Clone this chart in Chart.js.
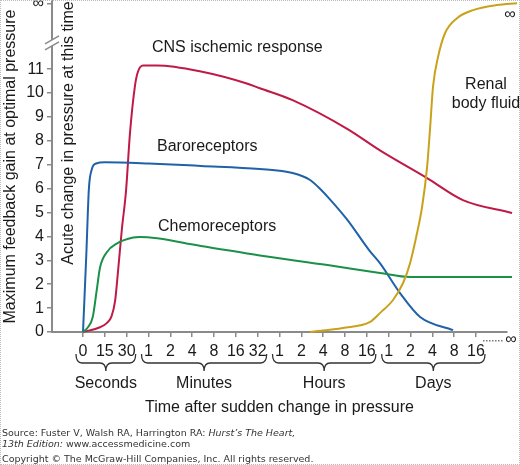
<!DOCTYPE html>
<html>
<head>
<meta charset="utf-8">
<script src="https://cdn.jsdelivr.net/npm/chart.js@4.4.1/dist/chart.umd.min.js"></script>
<style>
  html, body { margin: 0; padding: 0; background: #fff; }
  #wrap { position: relative; width: 520px; height: 465px; overflow: hidden; }
  #c { position: absolute; left: 0; top: 0; }
  .src { position: absolute; left: 2px; font-family: "DejaVu Sans", Verdana, sans-serif; font-size: 9.5px; color: #333; white-space: nowrap; line-height: 1; }
  #frame { position: absolute; left: 0; top: 0; width: 520px; height: 465px; box-sizing: border-box; border: 1px dotted #bbb; pointer-events: none; }
</style>
</head>
<body>
<div id="wrap">
  <canvas id="c" width="520" height="465"></canvas>
  <div class="src" style="top:428px">Source: Fuster V, Walsh RA, Harrington RA: <i>Hurst’s The Heart,</i></div>
  <div class="src" style="top:439px"><i>13th Edition:</i> www.accessmedicine.com</div>
  <div class="src" style="top:454px">Copyright © The McGraw-Hill Companies, Inc. All rights reserved.</div>
  <div id="frame"></div>
</div>
<script>
// x positions are tick indexes: 0..2 seconds, 3..8 minutes, 9..13 hours, 14..18 days
const tickLabels = ['0', '15', '30', '1', '2', '4', '8', '16', '32', '1', '2', '4', '8', '16', '1', '2', '4', '8', '16'];
const yTicks = [0, 1, 2, 3, 4, 5, 6, 7, 8, 9, 10, 11];
const infTick = 13.75;
const groups = ['Seconds', 'Minutes', 'Hours', 'Days'];
const groupFirst = [0, 3, 9, 14];
const groupLast = [2, 8, 13, 18];

const baroX = [0, 0.15, 0.27, 0.4, 0.6, 1.0, 3, 5.4, 8.1, 9.6, 10.4, 10.9, 11.3, 12.1, 13.1, 13.6, 14.52, 15.44, 16.95];
const baroY = [0, 3.2, 6.0, 6.8, 7.05, 7.1, 7.05, 6.95, 6.82, 6.65, 6.36, 5.95, 5.56, 4.7, 3.43, 2.88, 1.63, 0.63, 0.08];

const cnsX = [0, 0.78, 1.1, 1.3, 1.47, 1.6, 1.78, 1.97, 2.15, 2.38, 2.52, 2.75, 3.4, 5.4, 7.5, 8.1, 9.6, 12.1, 13.6, 15.76, 17.4, 19.65];
const cnsY = [0, 0.2, 0.38, 0.64, 1.3, 2.5, 4.3, 5.9, 8.3, 10.3, 10.9, 11.15, 11.15, 10.9, 10.4, 10.2, 9.7, 8.5, 7.6, 6.44, 5.52, 4.98];

const chemoX = [0, 0.2, 0.45, 0.63, 0.78, 1.1, 1.55, 2.3, 2.6, 5.4, 8.1, 11.2, 13.6, 14.98, 19.65];
const chemoY = [0, 0.17, 0.64, 1.76, 2.7, 3.35, 3.7, 3.95, 3.97, 3.6, 3.2, 2.8, 2.47, 2.3, 2.3];

const renalX = [10.4, 11.9, 13.15, 13.6, 14.2, 14.66, 14.98, 15.3, 15.53, 15.76, 15.9, 16.03, 16.26, 16.58, 17.13, 17.87, 18.96, 19.88];
const renalY = [0, 0.17, 0.42, 0.79, 1.34, 2.05, 2.88, 4.14, 5.23, 6.9, 8.57, 10.25, 11.5, 12.5, 13.13, 13.47, 13.68, 13.76];

const FONT = 'Liberation Sans, Arial, Helvetica, sans-serif';
const GRAY = '#8a8a8a';
const INK = '#1a1a1a';

Chart.defaults.font.family = FONT;
Chart.defaults.color = INK;

function series(label, xs, ys, color) {
  return {
    label,
    data: xs.map((x, i) => ({ x, y: ys[i] })),
    borderColor: color,
    borderWidth: 2,
    pointRadius: 0,
    fill: false,
    cubicInterpolationMode: 'monotone',
    clip: false
  };
}

const extras = {
  id: 'extras',
  afterDraw(chart) {
    const { ctx, scales: { x, y } } = chart;
    const px = v => x.getPixelForValue(v);
    ctx.save();

    // axis break on y
    const ax = chart.chartArea.left;
    const yb = y.getPixelForValue(12.1);
    ctx.fillStyle = '#fff';
    ctx.fillRect(ax - 3, yb - 3, 6, 6);
    ctx.strokeStyle = GRAY;
    ctx.lineWidth = 1.5;
    [-3, 3].forEach(d => {
      ctx.beginPath();
      ctx.moveTo(ax - 7, yb + d + 4);
      ctx.lineTo(ax + 7, yb + d - 4);
      ctx.stroke();
    });

    // second y title
    ctx.fillStyle = INK;
    ctx.font = '16px ' + FONT;
    ctx.textAlign = 'center';
    ctx.textBaseline = 'middle';
    ctx.save();
    ctx.translate(69, 133);
    ctx.rotate(-Math.PI / 2);
    ctx.fillText('Acute change in pressure at this time', 0, 0);
    ctx.restore();

    // curve labels
    ctx.textAlign = 'left';
    ctx.fillText('CNS ischemic response', 152, 48);
    ctx.fillText('Baroreceptors', 157, 147);
    ctx.fillText('Chemoreceptors', 158, 227);
    ctx.textAlign = 'center';
    ctx.fillText('Renal', 486, 85);
    ctx.fillText('body fluid', 486, 104);
    ctx.fillText('∞', 510, 15);

    // infinity at end of x axis
    ctx.fillText('∞', 511, 340);
    ctx.fillStyle = '#777';
    for (let dx = 483; dx <= 501; dx += 3) ctx.fillRect(dx, 340, 1.5, 1.5);

    // braces and group names
    ctx.strokeStyle = '#333';
    ctx.lineWidth = 1.3;
    const y0 = 354, y1 = 363, y2 = 371, r = 6;
    groups.forEach((g, i) => {
      const x1 = px(groupFirst[i]) - 7;
      const x2 = px(groupLast[i]) + 9;
      const xc = (x1 + x2) / 2;
      ctx.beginPath();
      ctx.moveTo(x1, y0);
      ctx.quadraticCurveTo(x1, y1, x1 + r, y1);
      ctx.lineTo(xc - r, y1);
      ctx.quadraticCurveTo(xc, y1, xc, y2);
      ctx.quadraticCurveTo(xc, y1, xc + r, y1);
      ctx.lineTo(x2 - r, y1);
      ctx.quadraticCurveTo(x2, y1, x2, y0);
      ctx.stroke();
      ctx.fillStyle = INK;
      ctx.fillText(g, xc, 384);
    });
    ctx.restore();
  }
};

new Chart(document.getElementById('c'), {
  type: 'line',
  data: {
    datasets: [
      series('Renal body fluid', renalX, renalY, '#c9a21c'),
      series('Chemoreceptors', chemoX, chemoY, '#1b9048'),
      series('Baroreceptors', baroX, baroY, '#1f62a8'),
      series('CNS ischemic response', cnsX, cnsY, '#bf1a46')
    ]
  },
  options: {
    responsive: false,
    animation: false,
    layout: { padding: { top: 1, right: 13, bottom: 0, left: 0 } },
    plugins: { legend: { display: false }, tooltip: { enabled: false } },
    scales: {
      x: {
        type: 'linear',
        min: -1.42,
        max: 19.42,
        afterBuildTicks: s => { s.ticks = tickLabels.map((_, i) => ({ value: i })); },
        afterFit: s => { s.height = 133; s.paddingLeft = 0; s.paddingRight = 0; },
        ticks: {
          autoSkip: false,
          maxRotation: 0,
          padding: 5,
          color: INK,
          font: { size: 16 },
          callback: (v, i) => tickLabels[i]
        },
        grid: { drawOnChartArea: false, drawTicks: true, tickLength: 5, color: GRAY, lineWidth: 1.5 },
        border: { color: GRAY, width: 2 },
        title: {
          display: true,
          text: 'Time after sudden change in pressure',
          color: INK,
          font: { size: 16 },
          padding: { top: 0, bottom: 48 }
        }
      },
      y: {
        type: 'linear',
        min: 0,
        max: 13.85,
        afterBuildTicks: s => { s.ticks = yTicks.map(v => ({ value: v })).concat([{ value: infTick }]); },
        afterFit: s => { s.width = 52; s.paddingTop = 0; s.paddingBottom = 0; },
        ticks: {
          autoSkip: false,
          padding: 3,
          color: INK,
          font: { size: 16 },
          callback: v => (v > 12 ? '∞' : v)
        },
        grid: { drawOnChartArea: false, drawTicks: true, tickLength: 5, color: GRAY, lineWidth: 1.5 },
        border: { color: GRAY, width: 2 },
        title: {
          display: true,
          text: 'Maximum feedback gain at optimal pressure',
          color: INK,
          font: { size: 16 },
          padding: { top: 0.5, bottom: 0 }
        }
      }
    }
  },
  plugins: [extras]
});
</script>
</body>
</html>
